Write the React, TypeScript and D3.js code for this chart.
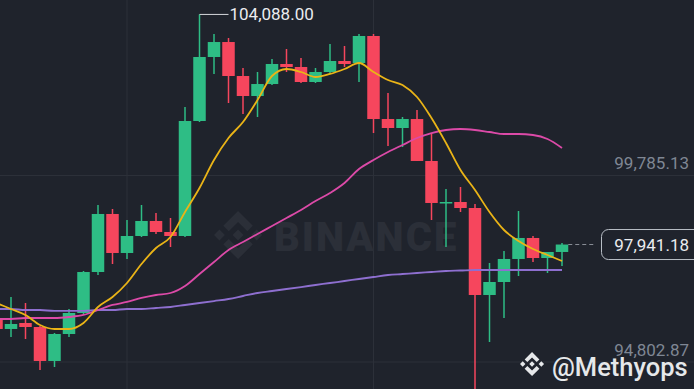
import * as d3 from "d3";

// candles, oldest first (first one is cut by the left edge)
const opens = [95978, 95685, 95845, 95738, 94830, 95551, 96112, 97207, 98757, 97715, 98169, 98570, 98276, 98169, 101241, 102951, 103351, 102443, 101909, 102229, 102764, 102684, 102283, 102550, 102844, 102790, 103512, 101294, 101054, 101294, 100173, 99051, 99077, 98917, 96593, 96940, 97555, 98116, 97581, 97742];
const highs = [96059, 96539, 96379, 95765, 95578, 96219, 97234, 98997, 98890, 98596, 98997, 98783, 98650, 101615, 104088, 103565, 103458, 102657, 102550, 102897, 103164, 102924, 102657, 103298, 103245, 103565, 103565, 101989, 101348, 101535, 100920, 99425, 99478, 99024, 97448, 97768, 98837, 98169, 97742, 97982];
const lows = [95578, 95471, 95417, 94589, 94669, 95471, 96085, 97127, 97421, 97555, 98142, 98222, 97875, 98142, 101214, 102497, 101722, 101428, 101348, 102203, 102550, 102256, 102256, 102523, 102684, 102283, 100920, 100573, 100546, 100173, 98596, 97875, 98810, 93700, 95337, 95978, 97100, 97474, 97181, 97368];
const closes = [95685, 95818, 95738, 94830, 95551, 96112, 97207, 98757, 97715, 98169, 98570, 98276, 98169, 101241, 102951, 103351, 102443, 101909, 102229, 102764, 102684, 102283, 102550, 102844, 102764, 103512, 101294, 101054, 101294, 100173, 99051, 99077, 98917, 96593, 96940, 97555, 98116, 97581, 97742, 97941.18];

// moving averages
const ma7 = [96379, 96219, 96059, 95791, 95685, 95685, 95845, 96272, 96539, 96913, 97421, 97848, 98142, 98810, 99451, 100199, 100787, 101214, 101802, 102443, 102630, 102550, 102416, 102497, 102630, 102790, 102550, 102336, 102203, 101882, 101321, 100653, 99932, 99398, 98810, 98329, 98035, 97822, 97661, 97501];
const ma25 = [95952, 95952, 95978, 95978, 95978, 96005, 96059, 96192, 96326, 96406, 96513, 96593, 96646, 96833, 97154, 97474, 97795, 98009, 98222, 98436, 98650, 98864, 99104, 99318, 99585, 99959, 100199, 100413, 100600, 100787, 100920, 101001, 101027, 101001, 100947, 100894, 100894, 100867, 100760, 100520];
const ma99 = [96219, 96219, 96192, 96192, 96166, 96166, 96166, 96192, 96192, 96219, 96219, 96246, 96272, 96326, 96379, 96432, 96486, 96566, 96646, 96700, 96753, 96806, 96860, 96913, 96967, 97020, 97074, 97127, 97154, 97181, 97207, 97234, 97247, 97261, 97261, 97261, 97261, 97261, 97261, 97261];

const gridPrices = [99785.13, 94802.87];
const gridCandles = [9, 26];
const highLabel = "104,088.00";
const lastPrice = 97941.18;

const W = 694;
const H = 389;
const BG = "#1f232c";
const UP = "#2ebd85";
const DOWN = "#f6465d";

const logoPath =
  "M38.73 53.2l24.59-24.58 24.6 24.6 14.3-14.31L63.32 0 24.43 38.9l14.3 14.3zM0 63.31l14.3-14.31 14.31 14.31-14.31 14.3zM38.73 73.41l24.59 24.59 24.6-24.6 14.31 14.29-38.9 38.91-38.91-38.88-.02-.02 14.33-14.29zM97.99 63.31l14.3-14.31 14.32 14.3-14.31 14.32zM77.83 63.3L63.32 48.78 52.59 59.51l-1.24 1.23-2.54 2.54-.02.02.02.02 14.51 14.5 14.51-14.51.01-.01-.01-.01z";

export default function App() {
  const ids = d3.range(closes.length);
  const x = d3.scalePoint<number>().domain(ids).range([-3.5, 562]);
  const y = d3.scaleLinear().domain([94802.87, 99785.13]).range([362, 175.5]);
  const bw = 12.5;

  const line = (vals: number[]) =>
    d3
      .line<number>()
      .x((_, i) => x(i)!)
      .y((v) => y(v))
      .curve(d3.curveMonotoneX)(vals)!;

  const hiIdx = d3.maxIndex(highs);
  const font = "Roboto, 'Noto Sans', sans-serif";

  return (
    <svg width={W} height={H} style={{ position: "fixed", left: 0, top: 0, background: BG }}>
      <rect width={W} height={H} fill={BG} />

      {/* grid */}
      {gridPrices.map((p) => (
        <line key={p} x1={0} x2={W} y1={y(p)} y2={y(p)} stroke="#2c3039" strokeWidth={1} />
      ))}
      {gridCandles.map((c) => (
        <line key={c} x1={x(c)} x2={x(c)} y1={0} y2={H} stroke="#2c3039" strokeWidth={1} />
      ))}

      {/* watermark */}
      <g fill="#2b2f38">
        <path d={logoPath} transform="translate(214,211) scale(0.38)" />
        <text x={274} y={251} fontFamily={font} fontWeight={900} fontSize={40} letterSpacing={2}>
          BINANCE
        </text>
      </g>

      {/* price labels */}
      {gridPrices.map((p) => (
        <text key={p} x={689} y={y(p) - 6.5} textAnchor="end" fontFamily={font} fontSize={17} fill="#7f8794">
          {d3.format(",.2f")(p)}
        </text>
      ))}

      {/* candles */}
      {ids.map((i) => {
        const up = closes[i] >= opens[i];
        const c = up ? UP : DOWN;
        const cx = x(i)!;
        const top = y(Math.max(opens[i], closes[i]));
        const bot = y(Math.min(opens[i], closes[i]));
        return (
          <g key={i}>
            <line x1={cx} x2={cx} y1={y(highs[i])} y2={y(lows[i])} stroke={c} strokeWidth={1.5} />
            <rect x={cx - bw / 2} y={top} width={bw} height={Math.max(1.5, bot - top)} fill={c} />
          </g>
        );
      })}

      {/* moving averages */}
      <path d={line(ma99)} fill="none" stroke="#8e6fd0" strokeWidth={1.8} />
      <path d={line(ma25)} fill="none" stroke="#dc4aa8" strokeWidth={1.8} />
      <path d={line(ma7)} fill="none" stroke="#eab417" strokeWidth={1.8} />

      {/* high marker */}
      <line x1={x(hiIdx)} x2={x(hiIdx)! + 29} y1={y(highs[hiIdx])} y2={y(highs[hiIdx])} stroke="#d5d8dc" strokeWidth={1} />
      <text x={x(hiIdx)! + 30} y={y(highs[hiIdx]) + 5.5} fontFamily={font} fontSize={17} fill="#eaecef">
        {highLabel}
      </text>

      {/* last price */}
      <line
        x1={x(ids.length - 1)! + bw / 2}
        x2={594}
        y1={y(lastPrice)}
        y2={y(lastPrice)}
        stroke="#8a8f98"
        strokeWidth={1}
        strokeDasharray="4 3"
      />
      <rect x={601.5} y={y(lastPrice) - 15} width={110} height={30} rx={7} fill={BG} stroke="#b8bec6" strokeWidth={1} />
      <text x={689} y={y(lastPrice) + 6} textAnchor="end" fontFamily={font} fontSize={17} fill="#eaecef">
        {d3.format(",.2f")(lastPrice)}
      </text>

      {/* user tag */}
      <g fill="#e6e8ea">
        <path d={logoPath} transform="translate(520,352) scale(0.19)" />
        <text x={552} y={376} fontFamily={font} fontSize={25.5} fontWeight={500}>
          @Methyops
        </text>
      </g>
    </svg>
  );
}
